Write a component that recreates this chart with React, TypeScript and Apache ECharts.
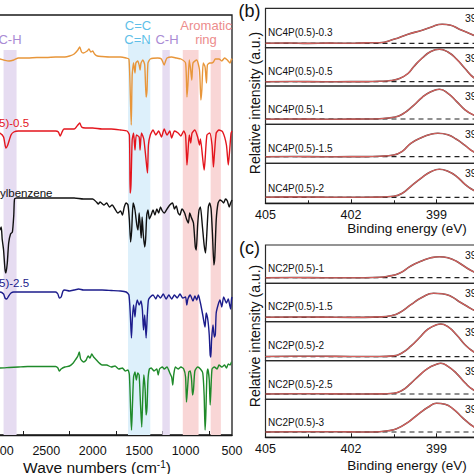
import React, { useEffect, useRef } from "react";
import * as echarts from "echarts";

const FONT = '"Liberation Sans", Arial, Helvetica, sans-serif';

// ---------- (a) FTIR spectra: [wavenumber (cm-1), offset transmittance] ----------
const ftirOrange = [
  [3060, 376], [3000, 376], [2960, 375], [2900, 374], [2850, 375], [2800, 377], [2700, 377], [2600, 377.5],
  [2500, 377.5], [2400, 378], [2300, 378], [2250, 379], [2200, 381], [2160, 385], [2140, 388], [2120, 383],
  [2100, 382], [2060, 384], [2040, 386], [2020, 383], [2000, 384], [1980, 381], [1950, 379], [1900, 378.5],
  [1800, 378], [1700, 378], [1640, 377], [1610, 376], [1595, 340], [1585, 310], [1575, 360], [1560, 372],
  [1545, 362], [1535, 372], [1515, 374], [1500, 370], [1490, 365], [1480, 372], [1460, 375], [1440, 370],
  [1425, 338], [1415, 345], [1405, 372], [1380, 376], [1300, 377], [1260, 376], [1230, 370], [1215, 374],
  [1200, 377], [1150, 378], [1100, 377], [1050, 376], [1000, 372], [985, 338], [975, 350], [960, 375],
  [945, 365], [933, 355], [920, 372], [880, 375], [850, 365], [835, 335], [825, 345], [810, 372],
  [790, 368], [775, 352], [765, 370], [740, 372], [720, 372], [700, 373], [680, 376], [640, 376],
  [610, 374], [580, 377], [550, 375], [521, 372], [505, 376], [500, 375],
];
const ftirRed = [
  [3060, 303], [3000, 302], [2960, 298], [2935, 287], [2915, 290], [2880, 300], [2850, 303], [2800, 304],
  [2600, 304], [2400, 304], [2370, 303], [2350, 299], [2330, 303], [2310, 306], [2200, 306], [2160, 310],
  [2140, 312], [2120, 308], [2080, 307], [2000, 307], [1900, 306], [1800, 306], [1700, 305], [1630, 304],
  [1605, 300], [1597, 242], [1588, 250], [1575, 295], [1560, 302], [1545, 285], [1530, 300], [1500, 298],
  [1490, 285], [1475, 302], [1450, 296], [1420, 270], [1410, 262], [1400, 290], [1380, 300], [1350, 305],
  [1320, 300], [1290, 304], [1260, 298], [1230, 306], [1200, 300], [1170, 304], [1150, 297], [1120, 304],
  [1080, 302], [1050, 299], [1020, 304], [1000, 300], [985, 270], [975, 282], [960, 300], [945, 292],
  [930, 302], [900, 305], [870, 298], [850, 290], [840, 296], [800, 265], [790, 275], [770, 300],
  [740, 302], [715, 290], [700, 268], [690, 280], [670, 302], [640, 305], [600, 303], [560, 290],
  [540, 270], [525, 285], [510, 302], [500, 304],
];
const ftirBlack = [
  [3060, 230], [3030, 215], [3000, 205], [2985, 208], [2975, 196], [2960, 185], [2945, 166], [2935, 162],
  [2920, 172], [2905, 192], [2885, 201], [2865, 203], [2850, 220], [2842, 236], [2820, 237], [2600, 237],
  [2400, 237], [2200, 237], [2100, 236], [2000, 236], [1960, 233], [1940, 231], [1920, 233], [1880, 230],
  [1850, 232], [1820, 228], [1790, 230], [1760, 226], [1730, 222], [1700, 224], [1680, 220], [1660, 228],
  [1640, 232], [1620, 230], [1605, 215], [1592, 193], [1580, 205], [1565, 232], [1545, 225], [1525, 210],
  [1512, 205], [1500, 222], [1490, 212], [1478, 197], [1468, 218], [1455, 200], [1440, 188], [1430, 196],
  [1418, 220], [1405, 225], [1390, 216], [1370, 220], [1350, 225], [1330, 220], [1310, 226], [1290, 222],
  [1270, 228], [1250, 224], [1230, 222], [1200, 226], [1170, 230], [1140, 232], [1120, 226], [1100, 229],
  [1080, 222], [1060, 220], [1040, 226], [1010, 222], [990, 216], [970, 212], [955, 222], [940, 218],
  [915, 212], [895, 188], [885, 185], [870, 210], [855, 225], [840, 228], [820, 210], [800, 190],
  [785, 182], [772, 200], [755, 228], [740, 232], [725, 226], [710, 200], [695, 170], [685, 178],
  [670, 215], [650, 232], [630, 235], [610, 234], [590, 232], [570, 236], [550, 234], [530, 228],
  [515, 232], [500, 235],
];
const ftirBlue = [
  [3060, 143], [3000, 143], [2960, 141], [2945, 137], [2925, 136], [2905, 139], [2880, 142], [2850, 143],
  [2700, 143], [2500, 143], [2400, 143], [2375, 141], [2360, 137], [2340, 138], [2320, 144], [2300, 145],
  [2250, 144], [2200, 145], [2150, 146], [2100, 145], [2000, 145], [1900, 145], [1800, 144.5], [1700, 144],
  [1640, 143], [1610, 140], [1595, 120], [1583, 97], [1572, 118], [1560, 130], [1545, 118], [1535, 128],
  [1520, 135], [1500, 130], [1480, 134], [1465, 125], [1453, 105], [1440, 120], [1425, 97], [1412, 120],
  [1400, 135], [1380, 138], [1350, 140], [1320, 136], [1300, 140], [1270, 137], [1240, 141], [1210, 136],
  [1180, 140], [1150, 136], [1120, 140], [1090, 137], [1060, 141], [1030, 137], [1000, 138], [987, 130],
  [975, 136], [950, 140], [920, 134], [900, 139], [880, 135], [862, 140], [840, 132], [815, 120],
  [800, 112], [790, 108], [778, 122], [760, 115], [745, 100], [735, 80], [728, 78], [720, 95],
  [705, 110], [690, 98], [680, 100], [670, 122], [650, 130], [630, 135], [610, 128], [590, 138],
  [560, 132], [540, 136], [525, 130], [515, 126], [505, 136], [500, 138],
];
const ftirGreen = [
  [3060, 67], [3000, 67], [2900, 67.5], [2800, 68], [2700, 68.5], [2500, 68.5], [2400, 68.5], [2375, 67],
  [2360, 64], [2340, 66], [2300, 68], [2250, 69], [2210, 72], [2180, 76], [2160, 79], [2145, 83],
  [2130, 76], [2100, 73], [2070, 75], [2050, 79], [2030, 77], [2010, 81], [1990, 78], [1960, 75],
  [1930, 72], [1900, 70], [1850, 70], [1800, 68], [1760, 69], [1720, 66], [1680, 67], [1650, 64],
  [1620, 65], [1605, 60], [1590, 20], [1582, 5], [1572, 30], [1560, 58], [1545, 63], [1530, 55],
  [1515, 62], [1500, 60], [1485, 30], [1472, 8], [1462, 35], [1450, 60], [1435, 45], [1425, 20],
  [1415, 28], [1405, 55], [1390, 66], [1370, 67], [1340, 64], [1310, 66], [1295, 60], [1280, 66],
  [1250, 68], [1230, 66], [1200, 68], [1170, 62], [1150, 58], [1138, 50], [1128, 60], [1110, 68],
  [1080, 66], [1050, 68], [1020, 66], [1000, 58], [990, 33], [980, 45], [965, 63], [950, 64],
  [935, 55], [925, 40], [915, 45], [900, 64], [870, 68], [840, 66], [815, 62], [800, 40],
  [790, 5], [782, 20], [770, 60], [760, 66], [745, 55], [735, 30], [727, 45], [715, 66],
  [690, 68], [660, 66], [640, 70], [610, 68], [580, 70], [560, 67], [540, 71], [520, 70],
  [505, 73], [500, 73],
];
const ftirSpectra = [ftirOrange, ftirRed, ftirBlack, ftirBlue, ftirGreen];
const ftirColors = ["#e8963a", "#e4151d", "#111111", "#1c1c8c", "#1f8a2a"];
const ftirSampleTexts = ["5)-0.5", "ylbenzene", "5)-2.5"];

// absorption regions (cm-1) and their kind
const bandRanges = [[2960, 2820], [1620, 1380], [1250, 1170], [1030, 860], [730, 620]];
const bandKinds = ["ch", "cn", "ch", "ar", "ar"];

// ---------- (b), (c) N 1s XPS: [binding energy (eV), intensity] ----------
const xpsSamplesB = ["NC4P(0.5)-0.3", "NC4P(0.5)-0.5", "NC4P(0.5)-1", "NC4P(0.5)-1.5", "NC4P(0.5)-2"];
const xpsSamplesC = ["NC2P(0.5)-1", "NC2P(0.5)-1.5", "NC2P(0.5)-2", "NC2P(0.5)-2.5", "NC2P(0.5)-3"];
const xpsPeakTag = "39";

const xpsB = [
  [[405, 4.5], [404.2, 4.7], [403.5, 4.3], [402.8, 4.6], [402, 4.4], [401.5, 4.8], [401, 5.0], [400.5, 8.4],
   [400, 13.5], [399.5, 17.5], [399.2, 20.5], [398.8, 23.5], [398.5, 22.5], [398.2, 18.5], [397.9, 15],
   [397.6, 11.5], [397.2, 8], [396.6, 5.5], [396, 4.6]],
  [[405, 4.3], [404, 4.5], [403, 4.2], [402, 4.4], [401.5, 4.4], [401, 4.7], [400.6, 5.5], [400.3, 7.5],
   [400, 12.5], [399.8, 19.3], [399.5, 28], [399.2, 34.5], [398.9, 36.7], [398.6, 34], [398.3, 27],
   [398, 17.5], [397.7, 8.5], [397.4, 5.2], [397, 4.4], [396, 4.3]],
  [[405, 5], [404, 5.3], [403, 5.1], [402, 5.2], [401.5, 5.3], [401, 5.6], [400.5, 7], [400.2, 10],
   [399.8, 19], [399.5, 27], [399.2, 32.5], [398.9, 35], [398.6, 31], [398.3, 23], [398, 14.5],
   [397.7, 9.3], [397.4, 6.5], [397, 5.4], [396, 5.3]],
  [[405, 6.5], [404, 6.8], [403, 6.5], [402, 6.7], [401.5, 6.7], [401, 7], [400.5, 8.3], [400.2, 12],
   [399.9, 20], [399.5, 26], [399.2, 29], [398.95, 30], [398.6, 28.5], [398.3, 24], [398, 18],
   [397.7, 11.6], [397.3, 8], [397, 6.8], [396, 6.6]],
  [[405, 6], [404.2, 6.4], [403.5, 6.3], [402.8, 6.1], [402, 6], [401, 6.2], [400.5, 7], [400.2, 10],
   [399.9, 17], [399.5, 26], [399.2, 31.5], [398.9, 34], [398.6, 32], [398.3, 27], [398, 19],
   [397.7, 13], [397.3, 8], [397, 6.4], [396, 6]],
];
const xpsBaselineB = [4.4, 4.3, 5.3, 6.6, 6];

const xpsC = [
  [[405, 5.6], [404, 5.8], [403, 5.6], [402, 5.5], [401, 6], [400.7, 7], [400.3, 10], [399.9, 17.3],
   [399.5, 22.5], [399.2, 25.5], [398.9, 26.6], [398.6, 25.5], [398.3, 22], [398, 16.5], [397.7, 11.6],
   [397.3, 8], [396.8, 6], [396, 5.6]],
  [[405, 4.4], [404, 4.7], [403, 4.6], [402, 4.3], [401, 4.8], [400.6, 6], [400.3, 9], [399.9, 17],
   [399.5, 24.5], [399.1, 28.4], [398.8, 28], [398.5, 25.5], [398.2, 20], [397.9, 15], [397.7, 11.7],
   [397.3, 7.5], [396.8, 5], [396, 4.4]],
  [[405, 4.2], [404, 4.5], [403, 4.4], [402, 4.2], [401, 4.2], [400.5, 4.8], [400.2, 8], [399.9, 14.5],
   [399.6, 23], [399.3, 31.5], [399, 36], [398.85, 36.7], [398.6, 34], [398.3, 26], [398, 16],
   [397.7, 9], [397.4, 5.5], [397, 4.2], [396, 4]],
  [[405, 5.3], [404, 5.6], [403, 5.5], [402, 5.3], [401, 5.4], [400.5, 6], [400.2, 9], [399.9, 16],
   [399.6, 24], [399.3, 31], [399, 35], [398.85, 36], [398.6, 33], [398.3, 26], [398, 16.5],
   [397.7, 9.3], [397.4, 6.5], [397, 5.4], [396, 5.3]],
  [[405, 5.3], [404, 5.5], [403, 5.6], [402, 5.4], [401.5, 5.3], [401, 5.6], [400.7, 6.5], [400.4, 8.5],
   [400, 15], [399.6, 24], [399.3, 30], [399, 34], [398.7, 33], [398.4, 28], [398.1, 20],
   [397.7, 10.6], [397.4, 7], [397, 5.6], [396, 5.3]],
];
const xpsBaselineC = [5.6, 4.4, 4, 5.3, 5.3];

const AXIS = "#1a1a1a";

function buildOption() {
  const grid: any[] = [];
  const xAxis: any[] = [];
  const yAxis: any[] = [];
  const series: any[] = [];
  const graphic: any[] = [];

  // ---- panel (a) ----
  grid.push({
    left: -93, top: 15, width: 325, height: 420, show: true, borderColor: AXIS, borderWidth: 1.3,
    backgroundColor: "transparent", outerBoundsMode: "none", containLabel: false,
  });
  xAxis.push({
    gridIndex: 0, type: "value", min: 500, max: 4000, interval: 500, inverse: true,
    axisLine: { show: true, lineStyle: { color: AXIS, width: 1.3 } },
    axisTick: { show: false, inside: true },
    minorTick: { show: true, splitNumber: 2, length: 4, lineStyle: { color: AXIS, width: 1 } },
    axisLabel: { color: "#111", fontFamily: FONT, fontSize: 12.5, margin: 9, formatter: (v: number) => String(v) },
    splitLine: { show: false }, minorSplitLine: { show: false },
  });
  yAxis.push({ gridIndex: 0, type: "value", min: 0, max: 420, show: false, splitLine: { show: false } });

  const bandFill: Record<string, string> = { ch: "#e6dcf1", cn: "#ddf0fb", ar: "#f9d6d6" };
  const bandTop: Record<string, number> = { ch: 385, cn: 393, ar: 385 };
  series.push({
    type: "line", xAxisIndex: 0, yAxisIndex: 0, data: [], z: 1, silent: true,
    markArea: {
      silent: true,
      data: bandRanges.map(([a, b], i) => [
        { xAxis: a, yAxis: 0, itemStyle: { color: bandFill[bandKinds[i]] } },
        { xAxis: b, yAxis: bandTop[bandKinds[i]] },
      ]),
    },
  });
  ftirSpectra.forEach((d, i) => {
    series.push({
      type: "line", xAxisIndex: 0, yAxisIndex: 0, data: d, showSymbol: false, z: 3,
      lineStyle: { color: ftirColors[i], width: 1.4 }, smooth: 0.2,
    });
  });

  const txt = (x: number, y: number, text: string, color: string, size: number, align = "center", extra: any = {}) => ({
    type: "text", x, y, silent: true, z: 50,
    style: { text, fill: color, font: `${size}px ${FONT}`, textAlign: align, textVerticalAlign: "middle", ...extra },
  });

  graphic.push(txt(10, 39, "C-H", "#a98bd4", 13));
  graphic.push(txt(138, 25, "C=C", "#5fbfe8", 13));
  graphic.push(txt(137.5, 39, "C=N", "#5fbfe8", 13));
  graphic.push(txt(167, 39, "C-H", "#a98bd4", 13));
  graphic.push(txt(206, 25, "Aromatic", "#ec8c8c", 13));
  graphic.push(txt(206, 39, "ring", "#ec8c8c", 13));
  graphic.push(txt(-1, 123, ftirSampleTexts[0], ftirColors[1], 11.5, "left"));
  graphic.push(txt(0, 193, ftirSampleTexts[1], ftirColors[2], 11.5, "left"));
  graphic.push(txt(-1, 283, ftirSampleTexts[2], ftirColors[3], 11.5, "left"));
  graphic.push({
    type: "text", x: 97, y: 467, silent: true, z: 50,
    style: {
      text: "Wave numbers (cm{sup|-1})", fill: "#111", font: `15.5px ${FONT}`, textAlign: "center", textVerticalAlign: "middle",
      rich: { sup: { fontSize: 10, fontFamily: FONT, fill: "#111", verticalAlign: "top", padding: [0, 0, 6, 0] } },
    },
  });

  // ---- panels (b), (c) ----
  const panels = [
    { lines: [8.3, 47.7, 86, 124.3, 163.3, 203.3], data: xpsB, base: xpsBaselineB, names: xpsSamplesB, letter: "(b)", titleY: 228, yTitle: 103 },
    { lines: [245, 283.3, 321.7, 360.7, 399.3, 437.3], data: xpsC, base: xpsBaselineC, names: xpsSamplesC, letter: "(c)", titleY: 465, yTitle: 336 },
  ];
  panels.forEach((p) => {
    for (let i = 0; i < 5; i++) {
      const top = p.lines[i];
      const h = p.lines[i + 1] - top;
      const gi = grid.length;
      const last = i === 4;
      grid.push({
        left: 265.5, top, width: 256.5, height: h, show: true, borderColor: "#2a2a2a", borderWidth: 1.2,
        backgroundColor: "transparent", outerBoundsMode: "none", containLabel: false,
      });
      xAxis.push({
        gridIndex: gi, type: "value", min: 396, max: 405, interval: 3, inverse: true, show: last,
        axisLine: { show: true, lineStyle: { color: AXIS, width: 1.3 } },
        axisTick: { show: true, inside: true, length: 4, lineStyle: { color: AXIS } },
        minorTick: { show: true, splitNumber: 2, length: 3, lineStyle: { color: AXIS } },
        axisLabel: { color: "#111", fontFamily: FONT, fontSize: 12.5, margin: 5 },
        splitLine: { show: false }, minorSplitLine: { show: false },
      });
      yAxis.push({ gridIndex: gi, type: "value", min: 0, max: h, show: false, splitLine: { show: false } });
      const pts = p.data[i];
      series.push({
        type: "line", xAxisIndex: gi, yAxisIndex: gi, z: 3,
        data: [[405, p.base[i]], [396, p.base[i]]], showSymbol: false,
        lineStyle: { color: "#222", width: 1.2, type: [5, 4] },
      });
      // measured envelope (dark) with the fitted curve (red) on top
      series.push({
        type: "line", xAxisIndex: gi, yAxisIndex: gi, z: 4, data: pts, showSymbol: false, smooth: true,
        lineStyle: { color: "#4a2a2a", width: 1.6, opacity: 0.85 },
      });
      series.push({
        type: "line", xAxisIndex: gi, yAxisIndex: gi, z: 5, data: pts, showSymbol: false, smooth: true,
        lineStyle: { color: "#d8605c", width: 1.1 },
      });
      graphic.push(txt(268, p.lines[i + 1] - 15, p.names[i], "#111", 10, "left"));
      graphic.push(txt(465, top + 10, xpsPeakTag, "#111", 10.5, "left"));
    }
    graphic.push(txt(249.5, p.lines[0] + 3, p.letter, "#111", 18));
    graphic.push(txt(407, p.titleY, "Binding energy (eV)", "#111", 13.5));
    graphic.push({
      type: "text", x: 255, y: p.yTitle, rotation: Math.PI / 2, silent: true, z: 50,
      style: { text: "Relative intensity (a.u.)", fill: "#111", font: `14px ${FONT}`, textAlign: "center", textVerticalAlign: "middle" },
    });
  });

  return {
    animation: false,
    backgroundColor: "#ffffff",
    grid, xAxis, yAxis, series, graphic,
  };
}

export default function App() {
  const ref = useRef<HTMLDivElement>(null);
  useEffect(() => {
    if (!ref.current) return;
    const chart = echarts.init(ref.current, undefined, { renderer: "svg" });
    chart.setOption(buildOption() as any);
    return () => chart.dispose();
  }, []);
  return (
    <div
      ref={ref}
      style={{ position: "fixed", left: 0, top: 0, width: 474, height: 474, background: "#fff" }}
    />
  );
}
